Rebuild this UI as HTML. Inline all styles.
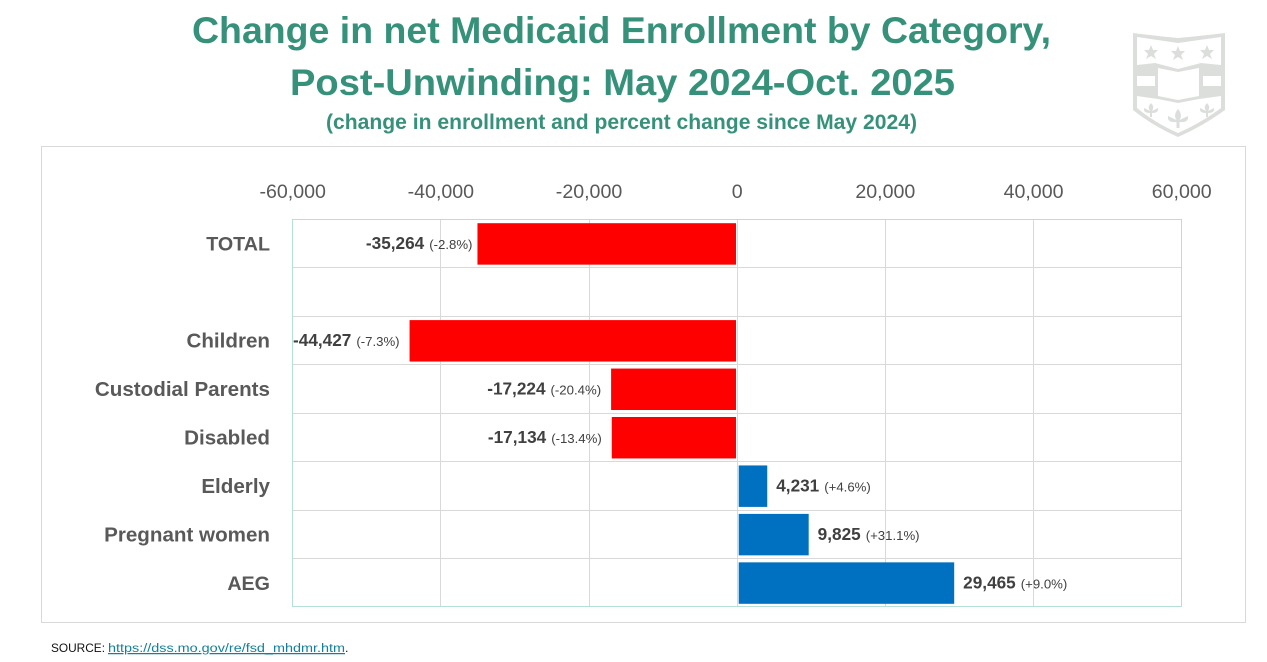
<!DOCTYPE html>
<html lang="en">
<head>
<meta charset="utf-8">
<title>Change in net Medicaid Enrollment by Category</title>
<style>
html,body{margin:0;padding:0;background:#fff;width:1267px;height:662px;overflow:hidden}
svg{display:block;font-family:"Liberation Sans",sans-serif}
.title{font-weight:700;fill:#36917a}
.tick{font-size:19.6px;fill:#595959}
.cat{font-size:20.6px;font-weight:700;fill:#595959}
.cat-upper{font-size:19.7px;font-weight:700;fill:#595959}
.val{font-size:17.2px;font-weight:700;fill:#404040}
.pct{font-size:13.2px;fill:#404040}
</style>
</head>
<body>
<svg id="chart" xmlns="http://www.w3.org/2000/svg" width="1267" height="662" viewBox="0 0 1267 662">
  <rect x="0" y="0" width="1267" height="662" fill="#fff"/>
  <text class="title" x="192" y="43" font-size="37" textLength="859" lengthAdjust="spacingAndGlyphs">Change in net Medicaid Enrollment by Category,</text>
  <text class="title" x="290" y="95" font-size="37" textLength="665" lengthAdjust="spacingAndGlyphs">Post-Unwinding: May 2024-Oct. 2025</text>
  <text class="title" x="326" y="129" font-size="21" textLength="591" lengthAdjust="spacingAndGlyphs">(change in enrollment and percent change since May 2024)</text>

  <g>
    <path d="M1133 33 Q1156 36 1178 38 Q1200 36 1225 33 L1225 110 Q1203 126 1178 137 Q1153 126 1133 110 Z" fill="#dcdedb"/>
    <path d="M1137 37 Q1158 40 1178 43 Q1199 40 1221 37 L1221 65 L1201 63 L1178 69 L1155 63 L1137 65 Z" fill="#fff"/>
    <path d="M1137 76 L1155 76 L1155 86 L1137 86 Z M1203 76 L1221 76 L1221 86 L1203 86 Z" fill="#fff"/>
    <path d="M1158 68 L1178 72 L1199 68 L1199 96 L1178 100 L1158 96 Z" fill="#fff"/>
    <path d="M1137 96 L1158 99 L1178 103 L1199 99 L1221 96 L1221 108 Q1201 123 1178 133 Q1155 123 1137 108 Z" fill="#fff"/>
    <g fill="#dcdedb">
      <polygon points="1151,45 1153,50 1158,50 1154,54 1156,59 1151,56 1146,59 1148,54 1144,50 1149,50"/>
      <polygon points="1178,46 1180,51 1185,51 1181,55 1183,60 1178,57 1173,60 1175,55 1171,51 1176,51"/>
      <polygon points="1207,45 1209,50 1214,50 1210,54 1212,59 1207,56 1202,59 1204,54 1200,50 1205,50"/>
      <path d="M1151 103 Q1155 107 1152 111 L1158 108 Q1159 113 1152 113 L1152 117 L1150 117 L1150 113 Q1143 113 1144 108 L1150 111 Q1147 107 1151 103 Z"/>
      <path d="M1178 109 Q1183 115 1179.500 120 L1188 116 Q1189 123 1179.500 122 L1179.500 128 L1176.500 128 L1176.500 122 Q1167 123 1168 116 L1176.500 120 Q1173 115 1178 109 Z"/>
      <path d="M1207 103 Q1211 107 1208 111 L1214 108 Q1215 113 1208 113 L1208 117 L1206 117 L1206 113 Q1199 113 1200 108 L1206 111 Q1203 107 1207 103 Z"/>
    </g>
  </g>

  <rect x="41.5" y="146.5" width="1204" height="476" fill="#fff" stroke="#d9d9d9" stroke-width="1"/>
  <g id="grid"></g>
  <g id="axis"></g>
  <g id="cats"></g>
  <rect x="292.5" y="219.500" width="889" height="387" fill="none" stroke="#b5e0d5" stroke-width="1"/>
  <g id="bars"></g>
  <g id="labels"></g>

  <text x="51" y="652" font-size="12.4" fill="#111" textLength="54" lengthAdjust="spacingAndGlyphs">SOURCE:</text>
  <text x="108" y="652" font-size="12.4" fill="#12809b" text-decoration="underline" textLength="237" lengthAdjust="spacingAndGlyphs">https://dss.mo.gov/re/fsd_mhdmr.htm</text>
  <text x="345" y="652" font-size="12.4" fill="#111">.</text>
</svg>
<script>
const categories = ["TOTAL", "", "Children", "Custodial Parents", "Disabled", "Elderly", "Pregnant women", "AEG"];
const values = [-35264, null, -44427, -17224, -17134, 4231, 9825, 29465];
const valueLabels = ["-35,264", "", "-44,427", "-17,224", "-17,134", "4,231", "9,825", "29,465"];
const percentLabels = ["(-2.8%)", "", "(-7.3%)", "(-20.4%)", "(-13.4%)", "(+4.6%)", "(+31.1%)", "(+9.0%)"];
const tickValues = [-60000, -40000, -20000, 0, 20000, 40000, 60000];
const tickLabels = ["-60,000", "-40,000", "-20,000", "0", "20,000", "40,000", "60,000"];

const NS = "http://www.w3.org/2000/svg";
const plot = { left: 292.7, right: 1181.7, top: 219.5, rowH: 48.45 };
const xMin = -60000;
const xMax = 60000;
function x(v) { return plot.left + (v - xMin) / (xMax - xMin) * (plot.right - plot.left); }
function rowTop(i) { return plot.top + i * plot.rowH; }
function make(tag, parentId) {
  const el = document.createElementNS(NS, tag);
  if (parentId) document.getElementById(parentId).appendChild(el);
  return el;
}

tickValues.forEach(function (t, i) {
  const g = make("line", "grid");
  
  
  const px = Math.floor(x(t)) + 0.5;
  g.setAttribute("x1", px); g.setAttribute("x2", px);
  g.setAttribute("y1", plot.top); g.setAttribute("y2", 606.5);
  g.setAttribute("stroke", "#d9d9d9");

  const lab = make("text", "axis");
  
  
  lab.setAttribute("class", "tick");
  lab.setAttribute("x", x(t));
  lab.setAttribute("y", 198);
  lab.setAttribute("text-anchor", "middle");
  lab.textContent = tickLabels[i];
});

categories.forEach(function (c, i) {
  if (i > 0) {
    const h = make("line", "grid");
    
    
    const py = Math.floor(rowTop(i)) + 0.5;
    h.setAttribute("x1", plot.left); h.setAttribute("x2", plot.right);
    h.setAttribute("y1", py); h.setAttribute("y2", py);
    h.setAttribute("stroke", "#d9d9d9");
  }
  const mid = rowTop(i) + plot.rowH / 2;
  if (c) {
    const t = make("text", "cats");
    
    
    t.setAttribute("class", c === c.toUpperCase() ? "cat-upper" : "cat");
    t.setAttribute("x", 270);
    t.setAttribute("y", mid + 7);
    t.setAttribute("text-anchor", "end");
    t.textContent = c;
  }
  const v = values[i];
  if (v === null) return;
  const x0 = x(0);
  const xv = x(v);
  const r = make("rect", "bars");
  
  
  const left = v < 0 ? xv + 1.5 : x0 + 1.5;
  const right = v < 0 ? x0 - 1.2 : xv - 1.3;
  r.setAttribute("x", left);
  r.setAttribute("y", rowTop(i) + 3.7);
  r.setAttribute("width", right - left);
  r.setAttribute("height", plot.rowH - 7);
  r.setAttribute("fill", v < 0 ? "#ff0000" : "#0070c0");

  const l = make("text", "labels");
  
  
  const gap = i === 0 ? 5 : 10;
  l.setAttribute("x", v < 0 ? left - gap : right + 9);
  l.setAttribute("y", mid + 5.5);
  l.setAttribute("text-anchor", v < 0 ? "end" : "start");
  const a = document.createElementNS(NS, "tspan");
  a.setAttribute("class", "val");
  a.textContent = valueLabels[i];
  const b = document.createElementNS(NS, "tspan");
  b.setAttribute("class", "pct");
  b.setAttribute("dx", "5");
  b.textContent = percentLabels[i];
  l.appendChild(a);
  l.appendChild(b);
});
</script>
</body>
</html>
